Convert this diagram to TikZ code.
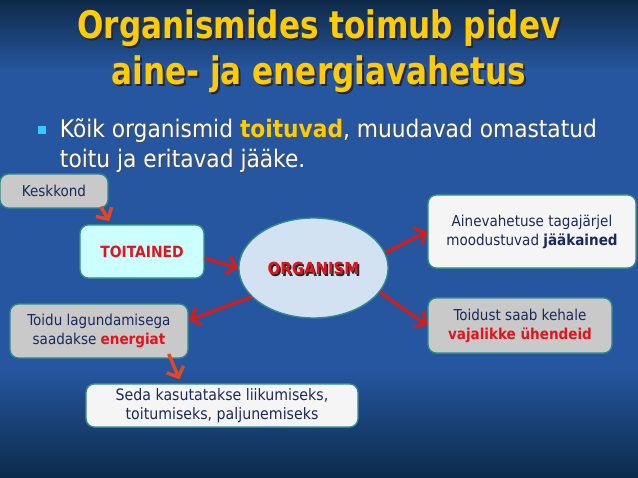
\documentclass[tikz,border=0pt]{standalone}
\usepackage{fontspec}
\setmainfont{DejaVu Sans}
\newfontfamily\narrowfont{DejaVu Sans Condensed}
\usetikzlibrary{arrows.meta,shapes.geometric}

\definecolor{bgtop}{HTML}{0E2A48}
\definecolor{bgmid}{HTML}{2656A0}
\definecolor{bgbot}{HTML}{0C2B4A}
\definecolor{titleyellow}{HTML}{FFCC00}
\definecolor{boxedge}{HTML}{2E8A8A}
\definecolor{navytext}{HTML}{1B2A5C}
\definecolor{arrowred}{HTML}{CC1F1F}
\definecolor{arroworange}{HTML}{E8461E}
\definecolor{boxgrey}{HTML}{C9C9C9}
\definecolor{boxwhite}{HTML}{F5F5F5}
\definecolor{boxcyan}{HTML}{CCFFFF}
\definecolor{ellipsefill}{HTML}{D2E2F2}
\definecolor{redtext}{HTML}{E3141B}
\definecolor{bulletcyan}{HTML}{33CCFF}

\tikzset{
  infobox/.style={draw=boxedge, line width=1pt, rounded corners=6pt, text=navytext,
    font=\narrowfont\fontsize{10.7}{13.5}\selectfont, align=center, inner sep=0pt},
  flowarrow/.style={draw=arrowred, line width=2.4pt, -{Straight Barb[length=6pt,width=13pt]}},
  orangearrow/.style={flowarrow, draw=arroworange},
  titletext/.style={font=\narrowfont\bfseries\fontsize{27}{33}\selectfont, align=center, xscale=0.91, transform shape},
  bullettext/.style={anchor=west, font=\narrowfont\fontsize{17.2}{21}\selectfont, align=left},
}

\begin{document}
\begin{tikzpicture}[x=0.025cm, y=-0.025cm]

        \useasboundingbox (0,0) rectangle (638,478);

        %Background
        \fill [bgmid] (0,0) rectangle (638,478);
        \shade [top color=bgtop, bottom color=bgmid] (0,0) rectangle (638,70);
        \shade [top color=bgmid, bottom color=bgbot] (0,370) rectangle (638,478);

        %Title
        \node [titletext, text=black!85] (titleshadow) at (321,53) {Organismides toimub pidev\\aine- ja energiavahetus};
        \node [titletext, text=titleyellow] (title) at (319,51) {Organismides toimub pidev\\aine- ja energiavahetus};

        %Bullet
        \fill [bulletcyan] (38,126) rectangle (46,134);
        \node [bullettext, text=black!70] (bulletshadow) at (56,146.5) {K\~oik organismid \textbf{toituvad}, muudavad omastatud\\toitu ja eritavad j\"a\"ake.};
        \node [bullettext, text=white] (bullet) at (55,145.5) {K\~oik organismid \textbf{\color{titleyellow}toituvad}, muudavad omastatud\\toitu ja eritavad j\"a\"ake.};

        %Boxes
        \node [infobox, fill=boxgrey, minimum width=2.7cm, minimum height=0.85cm] (keskkond) at (54,191) {Keskkond};
        \node [infobox, fill=boxcyan, text=redtext, minimum width=3.1cm, minimum height=1.33cm, font=\narrowfont\bfseries\fontsize{11}{13.5}\selectfont] (toitained) at (142,251.5) {TOITAINED};
        \node [ellipse, draw=boxedge, line width=1pt, fill=ellipsefill, minimum width=3.73cm, minimum height=2.5cm, inner sep=0pt] (organism) at (313.5,268) {};
        \node [text=black!85, font=\narrowfont\bfseries\fontsize{11.8}{13.5}\selectfont] (organismshadow) at (315,270) {ORGANISM};
        \node [text=redtext, font=\narrowfont\bfseries\fontsize{11.8}{13.5}\selectfont] (organismlabel) at (313.5,268.5) {ORGANISM};
        \node [infobox, fill=boxwhite, minimum width=5.2cm, minimum height=1.83cm] (wastes) at (532,231.5) {Ainevahetuse tagaj\"arjel\\moodustuvad \textbf{j\"a\"akained}};
        \node [infobox, fill=boxgrey, minimum width=4.6cm, minimum height=1.38cm] (compounds) at (520,325.5) {Toidust saab kehale\\\textbf{\color{redtext}vajalikke \"uhendeid}};
        \node [infobox, fill=boxgrey, minimum width=4.45cm, minimum height=1.35cm] (energy) at (99,331) {Toidu lagundamisega\\saadakse \textbf{\color{redtext}energiat}};
        \node [infobox, fill=boxwhite, minimum width=6.8cm, minimum height=1.08cm, font=\narrowfont\fontsize{11.2}{13.5}\selectfont] (usage) at (222,405.5) {Seda kasutatakse liikumiseks,\\toitumiseks, paljunemiseks};

        %Arrows
        \draw [orangearrow] ([xshift=-0.2cm, yshift=0.05cm]keskkond.south east) -- ([xshift=0.75cm, yshift=0.08cm]toitained.north west);
        \draw [flowarrow] ([yshift=-0.17cm]toitained.east) -- (organism.west);
        \draw [flowarrow] (organism.12) -- (wastes.west);
        \draw [flowarrow] (organism.-20) -- (compounds.west);
        \draw [flowarrow] (organism.205) -- ([yshift=0.27cm]energy.east);
        \draw [orangearrow] ([xshift=-0.5cm, yshift=0.12cm]energy.south east) -- ([xshift=2.35cm, yshift=0.1cm]usage.north west);

\end{tikzpicture}
\end{document}
